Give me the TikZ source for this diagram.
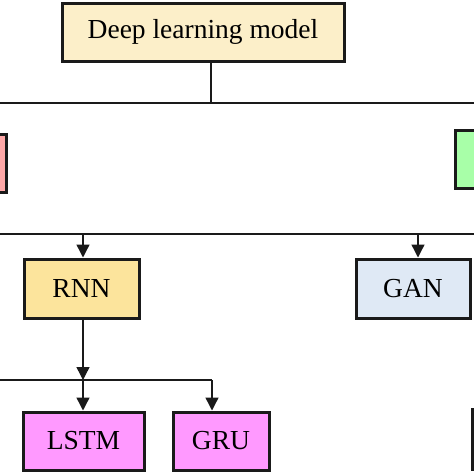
\documentclass[tikz,border=0pt]{standalone}
\usepackage{fontspec}
\setmainfont{Liberation Serif}
\usetikzlibrary{arrows.meta}
\definecolor{topfill}{HTML}{FCEFC9}
\definecolor{rnnfill}{HTML}{FCE49C}
\definecolor{ganfill}{HTML}{DFE9F5}
\definecolor{magfill}{HTML}{FF99FF}
\definecolor{redfill}{HTML}{FFA8A8}
\definecolor{greenfill}{HTML}{A8FFA8}
\definecolor{edge}{HTML}{1A1A1A}
\tikzset{
  box/.style={draw=edge, line width=3pt, rectangle, inner sep=0pt,
    font=\fontsize{27.5}{30}\selectfont, text=black},
  conn/.style={draw=edge, line width=1.4pt},
  arr/.style={conn, -{Triangle[width=13pt,length=13pt]}}
}
\begin{document}
\begin{tikzpicture}[x=1pt,y=-1pt]
\useasboundingbox (0,0) rectangle (474,474);
\clip (0,0) rectangle (474,474);
\fill[white] (0,0) rectangle (474,474);
% boxes
\node[box, fill=topfill, minimum width=282pt, minimum height=58pt] (top) at (203,32) {Deep learning model};
\node[box, fill=redfill, minimum width=115pt, minimum height=58pt] (red) at (-51.5,163) {};
\node[box, fill=greenfill, minimum width=115pt, minimum height=58pt] (green) at (512.5,159) {};
\node[box, fill=rnnfill, minimum width=115pt, minimum height=59pt] (rnn) at (81.5,288.5) {RNN};
\node[box, fill=ganfill, minimum width=114pt, minimum height=59pt] (gan) at (413,288.5) {GAN};
\node[box, fill=magfill, minimum width=121pt, minimum height=58pt] (lstm) at (83.5,441) {LSTM};
\node[box, fill=magfill, minimum width=96pt, minimum height=58pt] (gru) at (221,441) {GRU};
\node[box, fill=white, minimum width=100pt, minimum height=60pt] (right) at (522,439) {};
% coordinates
\coordinate (t1) at (211,103);
\coordinate (h1l) at (0,103);
\coordinate (h1r) at (474,103);
\coordinate (h2l) at (0,234);
\coordinate (h2r) at (474,234);
\coordinate (a1) at (83,234);
\coordinate (a2) at (418,234);
\coordinate (j1) at (83,380);
\coordinate (h3l) at (0,380);
\coordinate (j2) at (212,380);
% connectors
\draw[conn] (top.south -| t1) -- (t1);
\draw[conn] (h1l) -- (h1r);
\draw[conn] (h2l) -- (h2r);
\draw[arr] (a1) -- (a1 |- rnn.north);
\draw[arr] (a2) -- (a2 |- gan.north);
\draw[arr] (rnn.south -| j1) -- (j1);
\draw[conn] (h3l) -- (j2);
\draw[arr] (j1) -- (j1 |- lstm.north);
\draw[arr] (j2) -- (j2 |- gru.north);
\end{tikzpicture}
\end{document}
